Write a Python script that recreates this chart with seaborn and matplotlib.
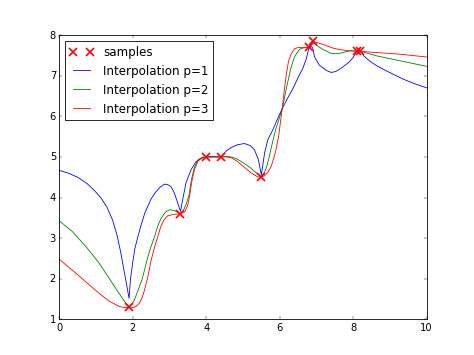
import seaborn as sns
import matplotlib
matplotlib.use('Agg')
import matplotlib.pyplot as plt
import pandas as pd
import numpy as np

plt.style.use('classic')

# sample points
sample_x = [1.9, 3.3, 4.0, 4.4, 5.5, 6.8, 6.9, 8.1, 8.2]
sample_y = [1.3, 3.6, 5.0, 5.0, 4.5, 7.7, 7.85, 7.6, 7.6]

# curves
p1_x = [0.00, 0.25, 0.50, 0.75, 0.95, 1.13, 1.30, 1.45, 1.58, 1.68, 1.76, 1.81, 1.86, 1.90,
        1.94, 2.00, 2.06, 2.13, 2.22, 2.33, 2.49, 2.62, 2.75, 2.86, 2.95, 3.04, 3.13, 3.22,
        3.30, 3.36, 3.45, 3.59, 3.72, 3.86, 4.00, 4.20, 4.40, 4.55, 4.68, 4.85, 5.04, 5.20,
        5.31, 5.42, 5.50, 5.55, 5.59, 5.68, 5.81, 5.95, 6.07, 6.20, 6.36, 6.50, 6.63, 6.72,
        6.79, 6.86, 6.90, 6.95, 7.08, 7.27, 7.40, 7.52, 7.67, 7.90, 8.00, 8.10, 8.15, 8.20,
        8.30, 8.45, 8.65, 8.90, 9.10, 9.35, 9.65, 10.0]
p1_y = [4.67, 4.60, 4.50, 4.35, 4.18, 4.00, 3.76, 3.45, 3.05, 2.62, 2.22, 1.98, 1.72, 1.52,
        2.00, 2.40, 2.75, 3.00, 3.30, 3.62, 3.95, 4.13, 4.26, 4.33, 4.32, 4.27, 4.12, 3.88,
        3.66, 3.95, 4.36, 4.69, 4.88, 4.97, 5.00, 5.01, 5.00, 5.15, 5.23, 5.30, 5.33, 5.28,
        5.18, 4.94, 4.56, 4.85, 5.10, 5.43, 5.66, 5.95, 6.19, 6.42, 6.68, 6.95, 7.18, 7.40,
        7.66, 7.72, 7.68, 7.46, 7.26, 7.13, 7.08, 7.10, 7.18, 7.34, 7.45, 7.60, 7.58, 7.60,
        7.48, 7.36, 7.24, 7.12, 7.03, 6.92, 6.81, 6.70]

p2_x = [0.00, 0.36, 0.73, 1.09, 1.36, 1.63, 1.82, 1.90, 1.97, 2.04, 2.13, 2.26, 2.40, 2.50,
        2.58, 2.68, 2.78, 2.90, 3.00, 3.13, 3.30, 3.38, 3.46, 3.53, 3.60, 3.68, 3.78, 3.90,
        4.00, 4.20, 4.40, 4.55, 4.68, 4.82, 4.95, 5.10, 5.22, 5.40, 5.50, 5.59, 5.66, 5.72,
        5.81, 5.90, 5.99, 6.07, 6.13, 6.18, 6.27, 6.31, 6.40, 6.45, 6.54, 6.63, 6.80, 6.90,
        7.00, 7.17, 7.40, 7.54, 7.63, 7.90, 8.10, 8.20, 8.63, 9.26, 10.0]
p2_y = [3.43, 3.16, 2.79, 2.38, 2.01, 1.64, 1.39, 1.32, 1.36, 1.47, 1.68, 2.00, 2.50, 2.80,
        3.00, 3.30, 3.50, 3.65, 3.70, 3.68, 3.60, 3.68, 3.85, 4.05, 4.45, 4.75, 4.93, 4.99,
        5.00, 5.00, 5.00, 5.01, 5.00, 4.96, 4.89, 4.80, 4.72, 4.58, 4.52, 4.63, 4.80, 5.02,
        5.38, 5.70, 5.95, 6.19, 6.45, 6.68, 7.05, 7.20, 7.45, 7.53, 7.65, 7.68, 7.70, 7.82,
        7.75, 7.65, 7.55, 7.54, 7.55, 7.61, 7.61, 7.60, 7.49, 7.37, 7.23]

p3_x = [0.00, 0.36, 0.73, 1.09, 1.36, 1.63, 1.80, 1.90, 2.00, 2.09, 2.18, 2.25, 2.32, 2.40,
        2.50, 2.60, 2.67, 2.75, 2.85, 2.95, 3.13, 3.30, 3.42, 3.50, 3.55, 3.61, 3.68, 3.78,
        3.90, 4.00, 4.40, 4.55, 4.68, 4.82, 4.95, 5.10, 5.22, 5.40, 5.50, 5.59, 5.68, 5.77,
        5.85, 5.90, 5.97, 6.02, 6.07, 6.12, 6.18, 6.24, 6.31, 6.40, 6.49, 6.68, 6.80, 6.90,
        7.08, 7.30, 7.45, 7.65, 7.81, 8.10, 8.20, 8.63, 9.26, 10.0]
p3_y = [2.48, 2.21, 1.92, 1.64, 1.45, 1.32, 1.29, 1.30, 1.29, 1.32, 1.40, 1.52, 1.72, 2.00,
        2.45, 2.80, 3.00, 3.25, 3.45, 3.55, 3.59, 3.60, 3.65, 3.82, 4.05, 4.40, 4.68, 4.90,
        4.98, 5.00, 5.00, 5.00, 4.98, 4.91, 4.81, 4.70, 4.61, 4.51, 4.50, 4.54, 4.62, 4.77,
        5.00, 5.18, 5.50, 5.85, 6.19, 6.60, 7.02, 7.35, 7.53, 7.66, 7.69, 7.70, 7.70, 7.84,
        7.80, 7.73, 7.68, 7.64, 7.62, 7.60, 7.60, 7.57, 7.53, 7.46]

fig, ax = plt.subplots(figsize=(8, 6), dpi=59.25, facecolor='white')
ax.set_facecolor('white')

sns.lineplot(x=sample_x, y=sample_y, ax=ax, color='r', marker='x', linestyle='',
             markersize=9, markeredgewidth=2, markeredgecolor='r', markerfacecolor='r',
             label='samples', zorder=4, sort=False)
sns.lineplot(x=p1_x, y=p1_y, ax=ax, color='b', linewidth=1, label='Interpolation p=1',
             estimator=None, sort=False)
sns.lineplot(x=p2_x, y=p2_y, ax=ax, color='g', linewidth=1, label='Interpolation p=2',
             estimator=None, sort=False)
sns.lineplot(x=p3_x, y=p3_y, ax=ax, color='r', linewidth=1, label='Interpolation p=3',
             estimator=None, sort=False)

ax.set_xlim(0, 10)
ax.set_ylim(1, 8)
ax.set_xticks([0, 2, 4, 6, 8, 10])
ax.set_yticks([1, 2, 3, 4, 5, 6, 7, 8])
ax.minorticks_off()
ax.legend(loc='upper left', numpoints=2)

fig.savefig('out.png', dpi=59.25, facecolor='white')
